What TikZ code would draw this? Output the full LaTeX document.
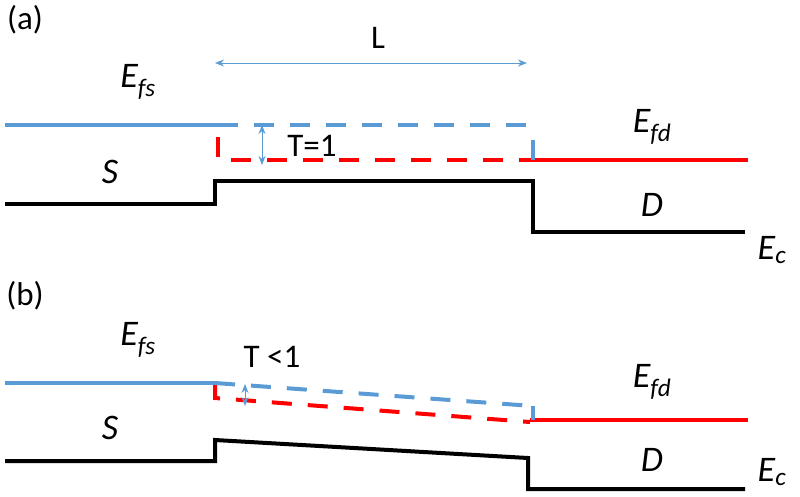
\documentclass[tikz,border=0pt]{standalone}
\usepackage{fontspec}
\setmainfont{Carlito}
\usetikzlibrary{arrows.meta}
\definecolor{bl}{RGB}{91,155,213}
\definecolor{rd}{RGB}{255,0,0}
\begin{document}
\begin{tikzpicture}[x=1pt,y=-1pt,
  lbl/.style={font=\fontsize{36}{40}\selectfont\itshape},
  txt/.style={font=\fontsize{33}{38}\selectfont},
  bsol/.style={bl,line width=4pt},
  rsol/.style={rd,line width=4pt},
  bdash/.style={bl,line width=4pt,dash pattern=on 20pt off 16pt},
  rdash/.style={rd,line width=4pt,dash pattern=on 20pt off 16pt},
  blk/.style={black,line width=4pt},
  dim/.style={bl,line width=1pt,{Stealth[length=9pt,width=7pt]}-{Stealth[length=9pt,width=7pt]}}]
\useasboundingbox (0,0) rectangle (800,496);
% (a)
\node[txt] (la) at (25,20) {(a)};
\coordinate (l1) at (215,63); \coordinate (l2) at (527,63);
\draw[dim] (l1) -- (l2);
\node[txt] (L) at (378,38) {L};
\draw[rdash] (218,137) -- (218,160) -- (533,160);
\draw[rsol] (533,160) -- (748,160);
\draw[bsol] (5,125) -- (218,125);
\draw[bdash] (218,125) -- (533,125);
\draw[bsol] (533,140) -- (533,160);
\draw[blk] (5,204) -- (215,204) -- (215,181) -- (533,181) -- (533,232) -- (745,232);
\coordinate (t1) at (262,125); \coordinate (t2) at (262,165);
\draw[dim] (t1) -- (t2);
\node[txt] (T1) at (312,146) {T=1};
\node[lbl] (efs) at (138,82) {E\textsubscript{\itshape fs}};
\node[lbl] (s) at (110,172) {S};
\node[lbl] (efd) at (652,127) {E\textsubscript{\itshape fd}};
\node[lbl] (d) at (652,205) {D};
\node[lbl] (ec) at (772,250) {E\textsubscript{\itshape c}};
% (b)
\node[txt] (lb) at (25,296) {(b)};
\draw[rdash] (215,383) -- (215,398) -- (530,422);
\draw[rsol] (530,420) -- (748,420);
\draw[bsol] (5,383) -- (215,383);
\draw[bdash] (215,383) -- (533,406);
\draw[bsol] (533,406) -- (533,420);
\draw[blk] (5,461) -- (215,461) -- (215,440) -- (528,458) -- (528,489) -- (745,489);
\coordinate (u1) at (245,384); \coordinate (u2) at (245,406);
\draw[dim] (u1) -- (u2);
\node[txt] (T2) at (272,357) {T <1};
\node[lbl] (efs2) at (138,340) {E\textsubscript{\itshape fs}};
\node[lbl] (s2) at (110,428) {S};
\node[lbl] (efd2) at (652,382) {E\textsubscript{\itshape fd}};
\node[lbl] (d2) at (652,460) {D};
\node[lbl] (ec2) at (772,472) {E\textsubscript{\itshape c}};
\end{tikzpicture}
\end{document}
